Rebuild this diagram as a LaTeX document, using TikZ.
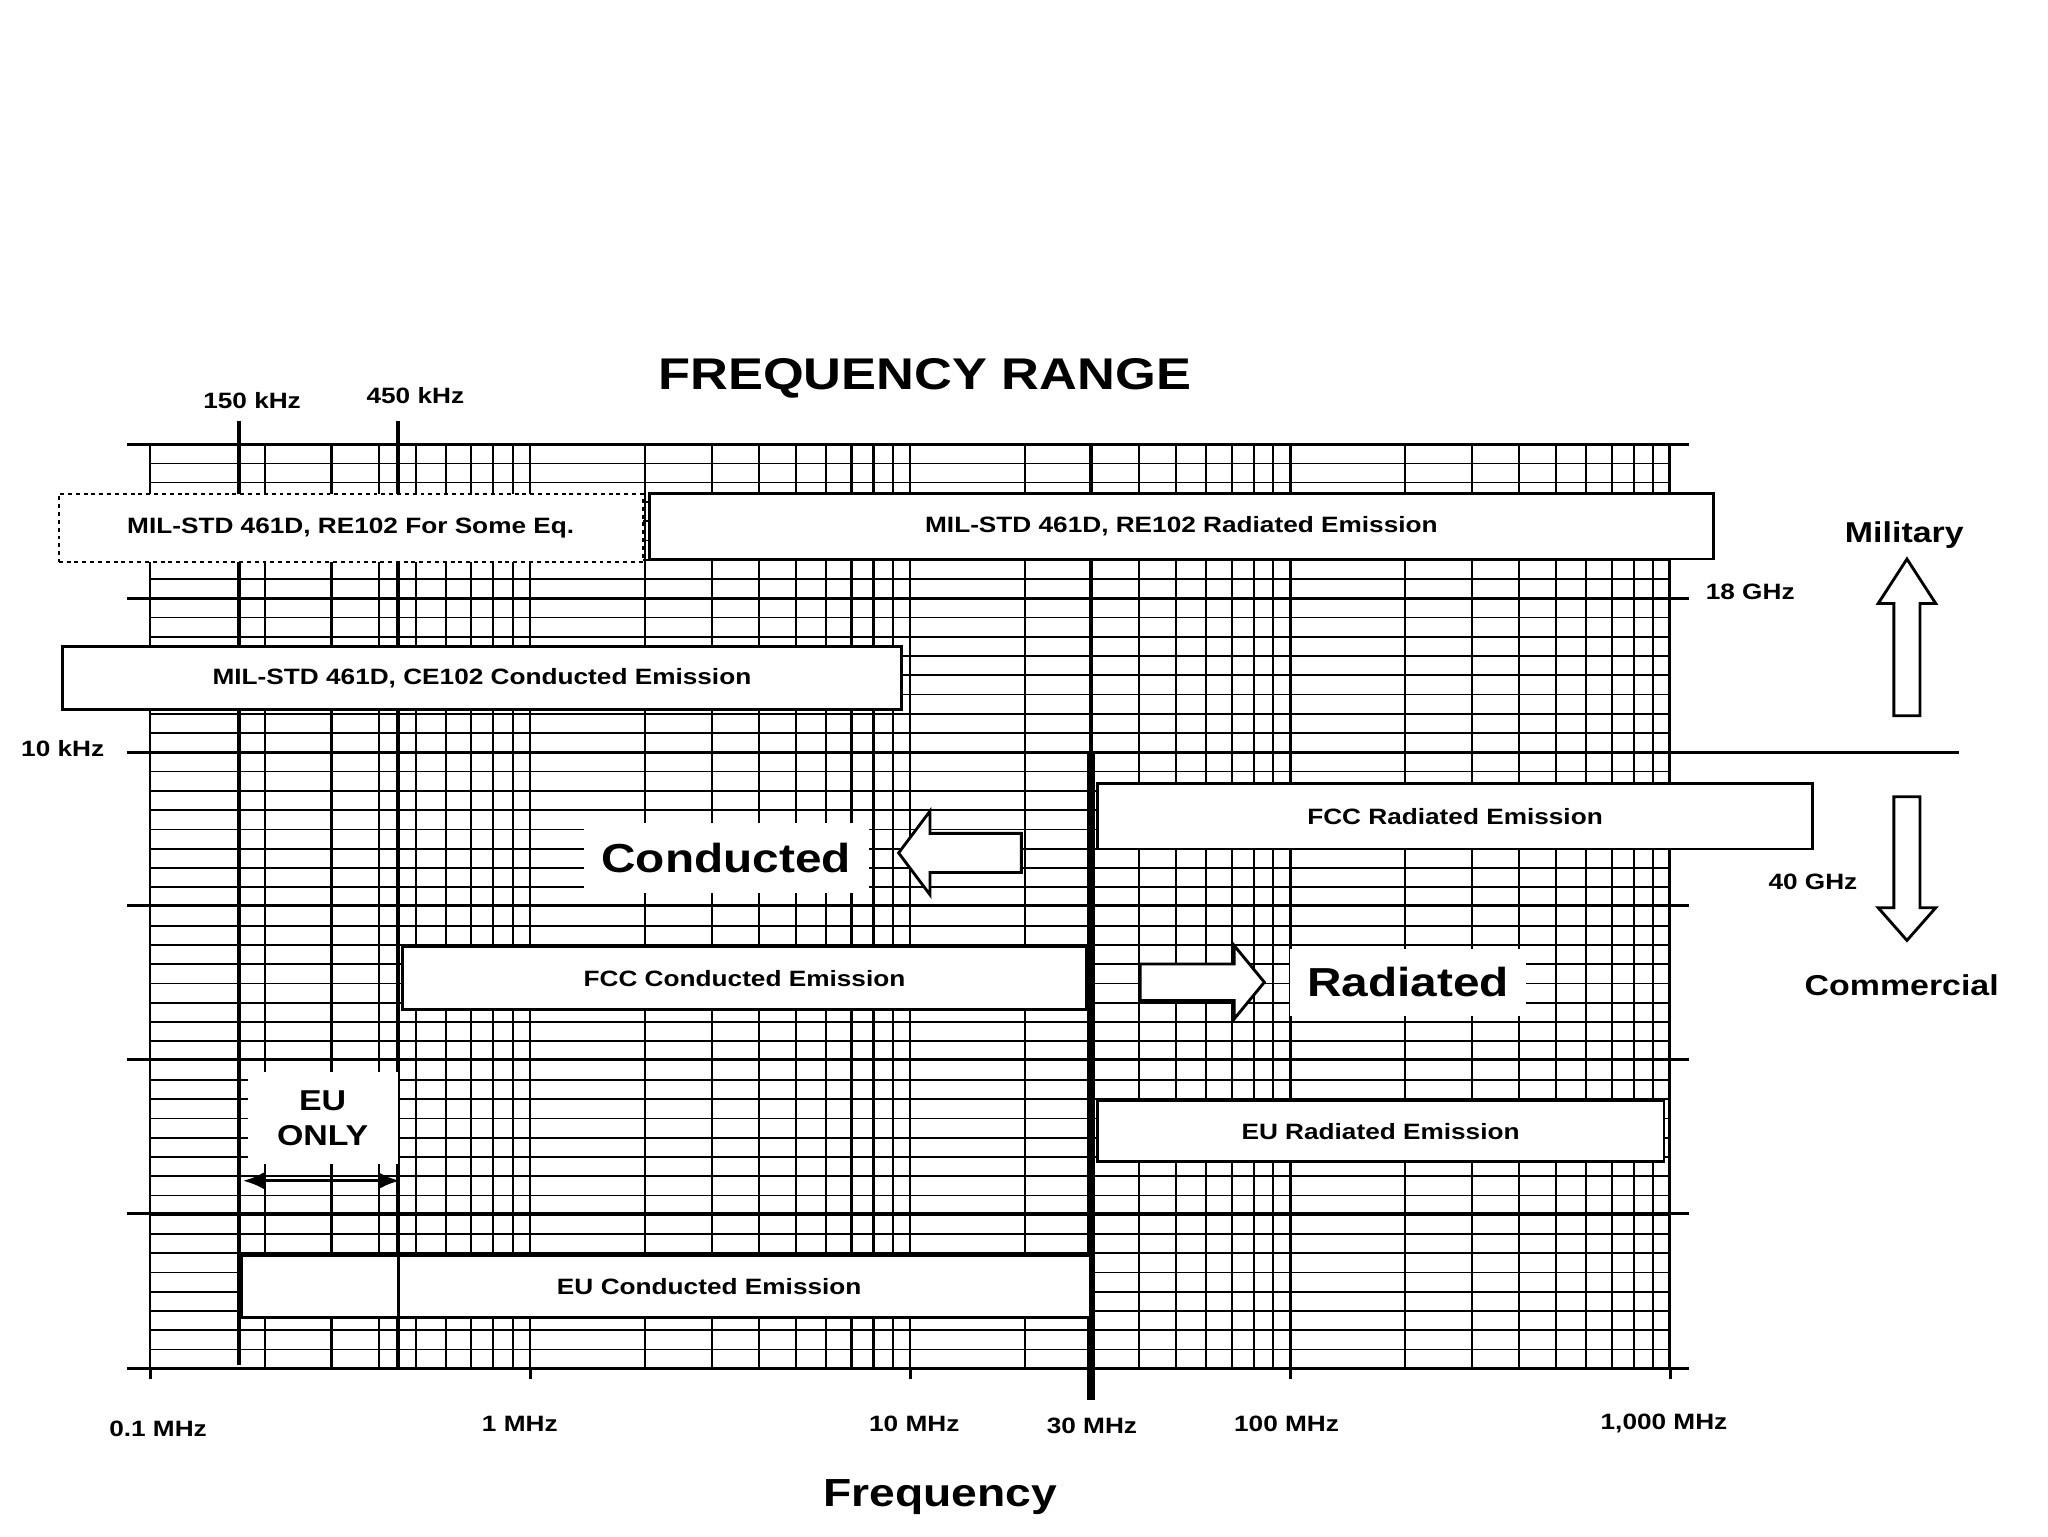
\documentclass[tikz,border=0pt]{standalone}
\usepackage{fontspec}
\setmainfont{Liberation Sans}
\newfontfamily\wide{Liberation Sans}[FakeStretch=1.18]
\usetikzlibrary{arrows.meta}
\begin{document}
\begin{tikzpicture}[x=1pt,y=-1pt,
  lbl/.style={font=\wide\fontsize{17}{19}\selectfont\bfseries},
  band/.style={draw,line width=2.2pt,fill=white,inner sep=0pt,font=\wide\fontsize{17}{19}\selectfont\bfseries},
  big/.style={fill=white,inner sep=0pt,font=\wide\fontsize{31}{36}\selectfont\bfseries},
  mid/.style={fill=white,inner sep=0pt,font=\wide\fontsize{22}{27}\selectfont\bfseries,align=center},
  side/.style={font=\wide\fontsize{22}{25}\selectfont\bfseries},
  outl/.style={draw,line width=2.2pt,fill=white,line join=miter}]
\useasboundingbox (0,0) rectangle (1568,1176);
% horizontal grid
\foreach \i in {0,...,48} \draw[line width=1.3pt] (115,{340+\i*14.75}) -- (1278,{340+\i*14.75});
\foreach \y in {340,458,576,693,811,929,1048} \draw[line width=2.2pt] (97,\y) -- (1293,\y);
% vertical grid
\foreach \dec in {0,1,2,3} \foreach \m in {1,...,9}
  \draw[line width=1.6pt] ({115+291*(\dec+log10(\m))},340) -- ({115+291*(\dec+log10(\m))},1048);
\draw[line width=2.4pt] (1278,340) -- (1278,1048);
\foreach \dec in {0,1,2,3,4} \draw[line width=2pt] ({115+291*\dec},1048) -- ({115+291*\dec},1056);
% special lines
\draw[line width=3pt] (183,322) -- (183,1045);
\draw[line width=3pt] (305,322) -- (305,1048);
\draw[line width=3pt] (835,340) -- (835,576);
\draw[line width=6pt] (835,576) -- (835,1072);
\draw[line width=2.6pt] (300,576) -- (1500,576);
% title and labels
\node[font=\wide\fontsize{34}{38}\selectfont\bfseries] (title) at (708,290) {FREQUENCY RANGE};
\node[lbl] (k150) at (193,307) {150 kHz};
\node[lbl] (k450) at (318,303) {450 kHz};
\node[lbl] (g18) at (1340,453) {18 GHz};
\node[lbl] (g40) at (1388,675) {40 GHz};
\node[lbl] (k10) at (48,573) {10 kHz};
\node[lbl] (m01) at (121,1094) {0.1 MHz};
\node[lbl] (m1) at (398,1090) {1 MHz};
\node[lbl] (m10) at (700,1090) {10 MHz};
\node[lbl] (m30) at (836,1092) {30 MHz};
\node[lbl] (m100) at (985,1090) {100 MHz};
\node[lbl] (m1000) at (1274,1090) {1,000 MHz};
\node[font=\wide\fontsize{30}{33}\selectfont\bfseries] (freq) at (720,1146) {Frequency};
% bands
\node[band,dashed,line width=1.6pt,minimum width=447pt,minimum height=52pt] (re102s) at (268.5,404) {MIL-STD 461D, RE102 For Some Eq.};
\node[band,minimum width=815pt,minimum height=50pt] (re102) at (904.5,403) {MIL-STD 461D, RE102 Radiated Emission};
\node[band,minimum width=642pt,minimum height=48pt] (ce102) at (369,519) {MIL-STD 461D, CE102 Conducted Emission};
\node[band,minimum width=548pt,minimum height=50pt] (fccr) at (1114,625) {FCC Radiated Emission};
\node[band,minimum width=524pt,minimum height=48pt] (fccc) at (570,749) {FCC Conducted Emission};
\node[band,minimum width=434pt,minimum height=47pt] (eur) at (1057,866) {EU Radiated Emission};
\node[band,minimum width=650pt,minimum height=47pt,text width=600pt,align=center] (euc) at (510,985) {\hspace*{66pt}EU Conducted Emission};
\draw[line width=2pt] (305,962) -- (305,1008);
% big labels and arrows
\node[big,minimum width=218pt,minimum height=54pt] (cond) at (556,657) {Conducted};
\draw[outl] (688,653) -- (712,621) -- (712,638) -- (782,638) -- (782,668) -- (712,668) -- (712,685) -- cycle;
\node[big,minimum width=180pt,minimum height=51pt] (rad) at (1078,752) {Radiated};
\draw[outl] (968,752) -- (945,724) -- (945,738) -- (873,738) -- (873,766) -- (945,766) -- (945,780) -- cycle;
\node[mid,minimum width=115pt,minimum height=70pt] (eu) at (247,856) {EU\\ONLY};
\coordinate (eul) at (186,904);
\coordinate (eur2) at (306,904);
\draw[line width=2.5pt,{Latex[length=16pt,width=13pt]}-{Latex[length=16pt,width=13pt]}] (eul) -- (eur2);
\node[side] (mil) at (1458,410) {Military};
\node[side] (com) at (1456,754) {Commercial};
\draw[outl] (1460,428) -- (1482,462) -- (1470,462) -- (1470,548) -- (1450,548) -- (1450,462) -- (1438,462) -- cycle;
\draw[outl] (1460,720) -- (1482,695) -- (1470,695) -- (1470,610) -- (1450,610) -- (1450,695) -- (1438,695) -- cycle;
\end{tikzpicture}
\end{document}
